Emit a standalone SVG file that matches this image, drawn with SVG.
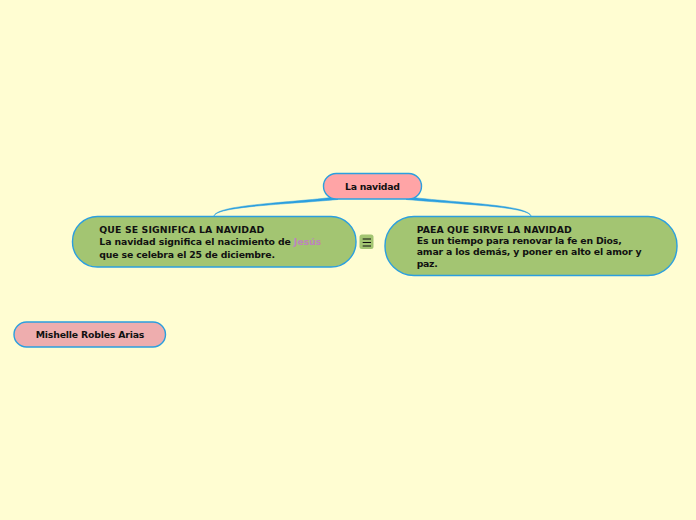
<svg xmlns="http://www.w3.org/2000/svg" width="696" height="520" viewBox="0 0 696 520">
<style>
text{font-family:"DejaVu Sans",Verdana,sans-serif;font-weight:700;font-size:9.33px;fill:#111}
.n{stroke:#2b9fdf;stroke-width:1.4}
.g{fill:#a3c572}
.c{fill:#2b9fdf;stroke:#2b9fdf;stroke-width:.5}
</style>
<rect width="696" height="520" fill="#fffdd2"/>
<g id="connectors">
<path class="c" d="M331 197.500C285 203 214 205 214 216.500C214.500 206.500 285 204.500 338 199.500Z"/>
<path class="c" d="M413 197.500C460 203 531 205 531 216.500C530.500 206.500 460 204.500 406 199.500Z"/>
</g>
<g id="node-root">
<rect class="n" x="323.500" y="173.500" width="98" height="25.500" rx="12.700" fill="#ffa4a6"/>
<text x="345" y="190" textLength="55">La navidad</text>
</g>
<g id="node-left">
<rect class="n g" x="72.500" y="216.500" width="283.500" height="50.500" rx="25"/>
<text x="99.300" y="233" textLength="165">QUE SE SIGNIFICA LA NAVIDAD</text>
<text x="99.300" y="245" textLength="221.700">La navidad significa el nacimiento de <tspan style="fill:#bd84bd">Jesús</tspan></text>
<text x="99.300" y="258" textLength="175.700">que se celebra el 25 de diciembre.</text>
</g>
<g id="node-menu">
<rect x="359.500" y="234.500" width="14" height="14.500" rx="2.500" fill="#a3c572"/>
<path d="M362.700 239H371M362.700 242.500H371M362.700 246H371" stroke="#111" stroke-width="1" fill="none"/>
</g>
<g id="node-right">
<rect class="n g" x="385" y="216.500" width="292" height="59" rx="29"/>
<text x="416.700" y="233" textLength="155">PAEA QUE SIRVE LA NAVIDAD</text>
<text x="416.700" y="244" textLength="205">Es un tiempo para renovar la fe en Dios,</text>
<text x="416.700" y="255" textLength="225">amar a los demás, y poner en alto el amor y</text>
<text x="416.700" y="267" textLength="21">paz.</text>
</g>
<g id="node-author">
<rect class="n" x="14" y="322" width="151.500" height="25" rx="12.500" fill="#eeadae"/>
<text x="35.700" y="338" textLength="108.700">Mishelle Robles Arias</text>
</g>
</svg>
